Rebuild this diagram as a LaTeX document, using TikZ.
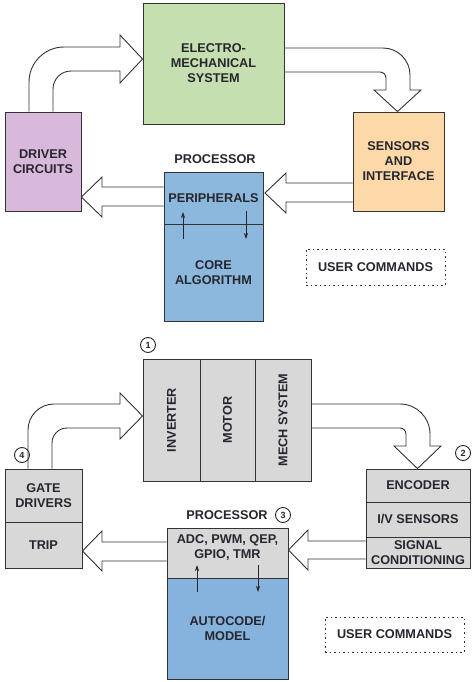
\documentclass[tikz,border=0pt]{standalone}
\usepackage{fontspec}
\setmainfont{Liberation Sans}
\usetikzlibrary{arrows.meta}
\definecolor{lgreen}{HTML}{C6DFB0}
\definecolor{lpurple}{HTML}{D8B9DC}
\definecolor{lorange}{HTML}{FDD8A8}
\definecolor{lblue}{HTML}{8DB8DE}
\definecolor{lblueb}{HTML}{86B3DE}
\definecolor{lgray}{HTML}{D8D8D8}
\definecolor{edge}{HTML}{333333}
\definecolor{txt}{HTML}{26262F}
\begin{document}
\begin{tikzpicture}[x=1pt,y=-1pt,
  box/.style={draw=edge,line width=0.9pt,inner sep=0pt,align=center,text=txt,
    font=\fontsize{12.7}{15}\selectfont\bfseries},
  lbl/.style={inner sep=0pt,align=center,text=txt,font=\fontsize{12.7}{15}\selectfont\bfseries},
  blockarrow/.style={draw=edge,line width=0.9pt,line join=miter},
  smallarrow/.style={draw=txt,line width=0.8pt,-{Stealth[length=6pt,width=4pt]}},
  usercmd/.style={draw=edge,line width=1pt,dash pattern=on 1.5pt off 3pt,inner sep=0pt,
    text=txt,font=\fontsize{12.7}{15}\selectfont\bfseries},
  numcirc/.style={circle,draw=txt,line width=0.9pt,minimum size=15pt,inner sep=0pt,
    text=txt,font=\fontsize{9}{9}\selectfont\bfseries}]
\useasboundingbox[fill=white] (0,0) rectangle (474,682);

% ---------------- Diagram 1 ----------------
\node[box,fill=lgreen,minimum width=141pt,minimum height=121pt] (ems) at (213.5,63.5) {ELECTRO-\\MECHANICAL\\SYSTEM};
\node[box,fill=lpurple,minimum width=76pt,minimum height=99pt] (drv) at (43,161.5) {DRIVER\\CIRCUITS};
\node[box,fill=lorange,minimum width=91pt,minimum height=99pt] (sens) at (398.5,161.5) {SENSORS\\AND\\INTERFACE};
\node[lbl] (proclbl) at (215,159) {PROCESSOR};
\node[box,fill=lblue,minimum width=99pt,minimum height=52pt] (peri) at (213.5,198) {PERIPHERALS};
\node[box,fill=lblue,minimum width=99pt,minimum height=97pt] (core) at (213.5,272.5) {CORE\\ALGORITHM};
\node[usercmd,minimum width=139pt,minimum height=36pt] (uc1) at (375.5,267) {USER COMMANDS};

\coordinate (pu1a) at (183,239); \coordinate (pu1b) at (183,212);
\coordinate (pd1a) at (246,211); \coordinate (pd1b) at (246,239);
\draw[smallarrow] (pu1a) -- (pu1b);
\draw[smallarrow] (pd1a) -- (pd1b);

% driver -> EMS curved arrow
\draw[blockarrow] (drv.north -| 29,0) -- (29,82) .. controls (29,62.7) and (44.7,47) .. (64,47)
  -- (120,47) -- (120,35) -- (ems.west |- 0,59) -- (120,83) -- (120,71) -- (71,71)
  .. controls (61.1,71) and (53,79.1) .. (53,89) -- (drv.north -| 53,0);
% EMS -> sensors curved arrow
\draw[blockarrow] (ems.east |- 0,48) -- (383,48) .. controls (397.9,48) and (410,60.1) .. (410,75)
  -- (410,90) -- (421,90) -- (sens.north -| 397.5,0) -- (374,90) -- (386,90) -- (386,78)
  .. controls (386,74.7) and (383.3,72) .. (380,72) -- (ems.east |- 0,72);
% processor -> driver
\draw[blockarrow] (peri.west |- 0,187) -- (102,187) -- (102,177) -- (drv.east |- 0,197)
  -- (102,217) -- (102,206) -- (peri.west |- 0,206);
% sensors -> processor
\draw[blockarrow] (sens.west |- 0,183) -- (286,183) -- (286,173) -- (265,193)
  -- (286,213) -- (286,202) -- (sens.west |- 0,202);

% ---------------- Diagram 2 ----------------
\node[numcirc] (n1) at (148,345) {1};
\node[box,fill=lgray,minimum width=57pt,minimum height=122pt] (inv) at (171.5,420) {\rotatebox{90}{INVERTER}};
\node[box,fill=lgray,minimum width=55pt,minimum height=122pt] (mot) at (227.5,420) {\rotatebox{90}{MOTOR}};
\node[box,fill=lgray,minimum width=56pt,minimum height=122pt] (mech) at (283,420) {\rotatebox{90}{MECH SYSTEM}};

\node[numcirc] (n4) at (22,455) {4};
\node[box,fill=lgray,minimum width=77pt,minimum height=53pt] (gate) at (43.5,495.5) {GATE\\DRIVERS};
\node[box,fill=lgray,minimum width=77pt,minimum height=46pt] (trip) at (43.5,545) {TRIP};

\node[numcirc] (n2) at (463,453) {2};
\node[box,fill=lgray,minimum width=104pt,minimum height=33pt] (enc) at (418,485.5) {ENCODER};
\node[box,fill=lgray,minimum width=104pt,minimum height=35pt] (ivs) at (418,519.5) {I/V SENSORS};
\node[box,fill=lgray,minimum width=104pt,minimum height=31pt] (sig) at (418,552.5) {SIGNAL\\CONDITIONING};

\node[lbl] (proc2lbl) at (227,515) {PROCESSOR};
\node[numcirc] (n3) at (283,515) {3};
\node[box,fill=lgray,minimum width=121pt,minimum height=50pt] (adc) at (227.5,553) {};
\node[lbl] (adctxt) at (227.5,548) {ADC, PWM, QEP,\\GPIO, TMR};
\node[box,fill=lblueb,minimum width=121pt,minimum height=101pt] (auto) at (227.5,628.5) {AUTOCODE/\\MODEL};
\node[usercmd,minimum width=139pt,minimum height=35pt] (uc2) at (394.5,634.5) {USER COMMANDS};

\coordinate (pu2a) at (197,592); \coordinate (pu2b) at (197,565);
\coordinate (pd2a) at (258,565); \coordinate (pd2b) at (258,592);
\draw[smallarrow] (pu2a) -- (pu2b);
\draw[smallarrow] (pd2a) -- (pd2b);

% gate -> inverter curved arrow
\draw[blockarrow] (gate.north -| 28,0) -- (28,430) .. controls (28,415.6) and (39.6,404) .. (54,404)
  -- (120,404) -- (120,393) -- (inv.west |- 0,416) -- (120,439) -- (120,428) -- (67,428)
  .. controls (58.7,428) and (52,434.7) .. (52,443) -- (gate.north -| 52,0);
% mech -> encoder curved arrow
\draw[blockarrow] (mech.east |- 0,404) -- (400,404) .. controls (416.6,404) and (430,417.4) .. (430,434)
  -- (430,446) -- (441,446) -- (enc.north -| 417.5,0) -- (394,446) -- (406,446) -- (406,434)
  .. controls (406,430.7) and (403.3,428) .. (400,428) -- (mech.east |- 0,428);
% processor -> trip
\draw[blockarrow] (adc.west |- 0,542) -- (102,542) -- (102,531) -- (trip.east |- 0,551)
  -- (102,571) -- (102,561) -- (adc.west |- 0,561);
% signal -> processor
\draw[blockarrow] (sig.west |- 0,541) -- (308,541) -- (308,530) -- (adc.east |- 0,550)
  -- (308,570) -- (308,559) -- (sig.west |- 0,559);
\end{tikzpicture}
\end{document}
